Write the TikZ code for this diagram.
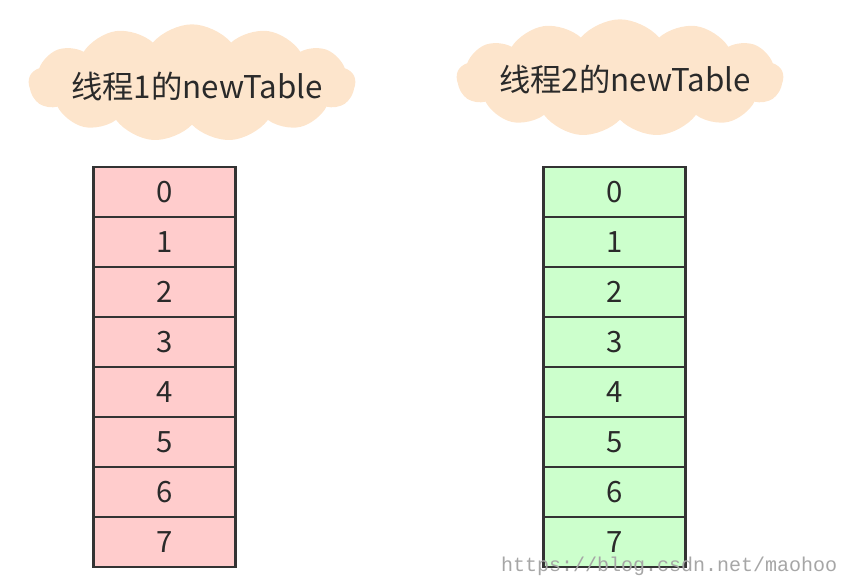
\documentclass[tikz,border=0pt]{standalone}
\usepackage{fontspec}
\setmainfont{Noto Sans CJK SC}
\newfontfamily\wmfont{Liberation Mono}
\usetikzlibrary{shapes.symbols}
\begin{document}
\begin{tikzpicture}[x=0.75pt,y=-0.75pt,
  cloudbox/.style={cloud, cloud puffs=13, cloud puff arc=100, aspect=2.8, fill=cloudfill, draw=none, minimum width=245pt, minimum height=88pt, inner sep=0pt},
  cellbox/.style={draw=cellline, line width=2.2pt, minimum width=107pt, minimum height=37.5pt, inner sep=0pt, font=\fontsize{22}{24}\selectfont, text=textc},
  redcell/.style={cellbox, fill=redfill},
  greencell/.style={cellbox, fill=greenfill}]
\definecolor{cloudfill}{HTML}{FDE5CC}
\definecolor{redfill}{HTML}{FFCCCC}
\definecolor{greenfill}{HTML}{CCFFCC}
\definecolor{cellline}{HTML}{333333}
\definecolor{textc}{HTML}{2A2A2A}
\useasboundingbox (0,0) rectangle (847,583);
\node[cloudbox] (c1) at (192,83) {};
\node[font=\fontsize{23.5}{26}\selectfont, text=textc] (t1) at (197,86) {线程1的newTable};
\node[cloudbox] (c2) at (620,78) {};
\node[font=\fontsize{23.5}{26}\selectfont, text=textc] (t2) at (625,79) {线程2的newTable};
\foreach \i in {0,...,7} {
  \node[redcell] (r\i) at (164.5,{192+50*\i}) {\i};
  \node[greencell] (g\i) at (614.5,{192+50*\i}) {\i};
}
\node[font=\wmfont\fontsize{15}{16}\selectfont, text=black!35, anchor=east] (wm) at (842,566) {https://blog.csdn.net/maohoo};
\end{tikzpicture}
\end{document}
